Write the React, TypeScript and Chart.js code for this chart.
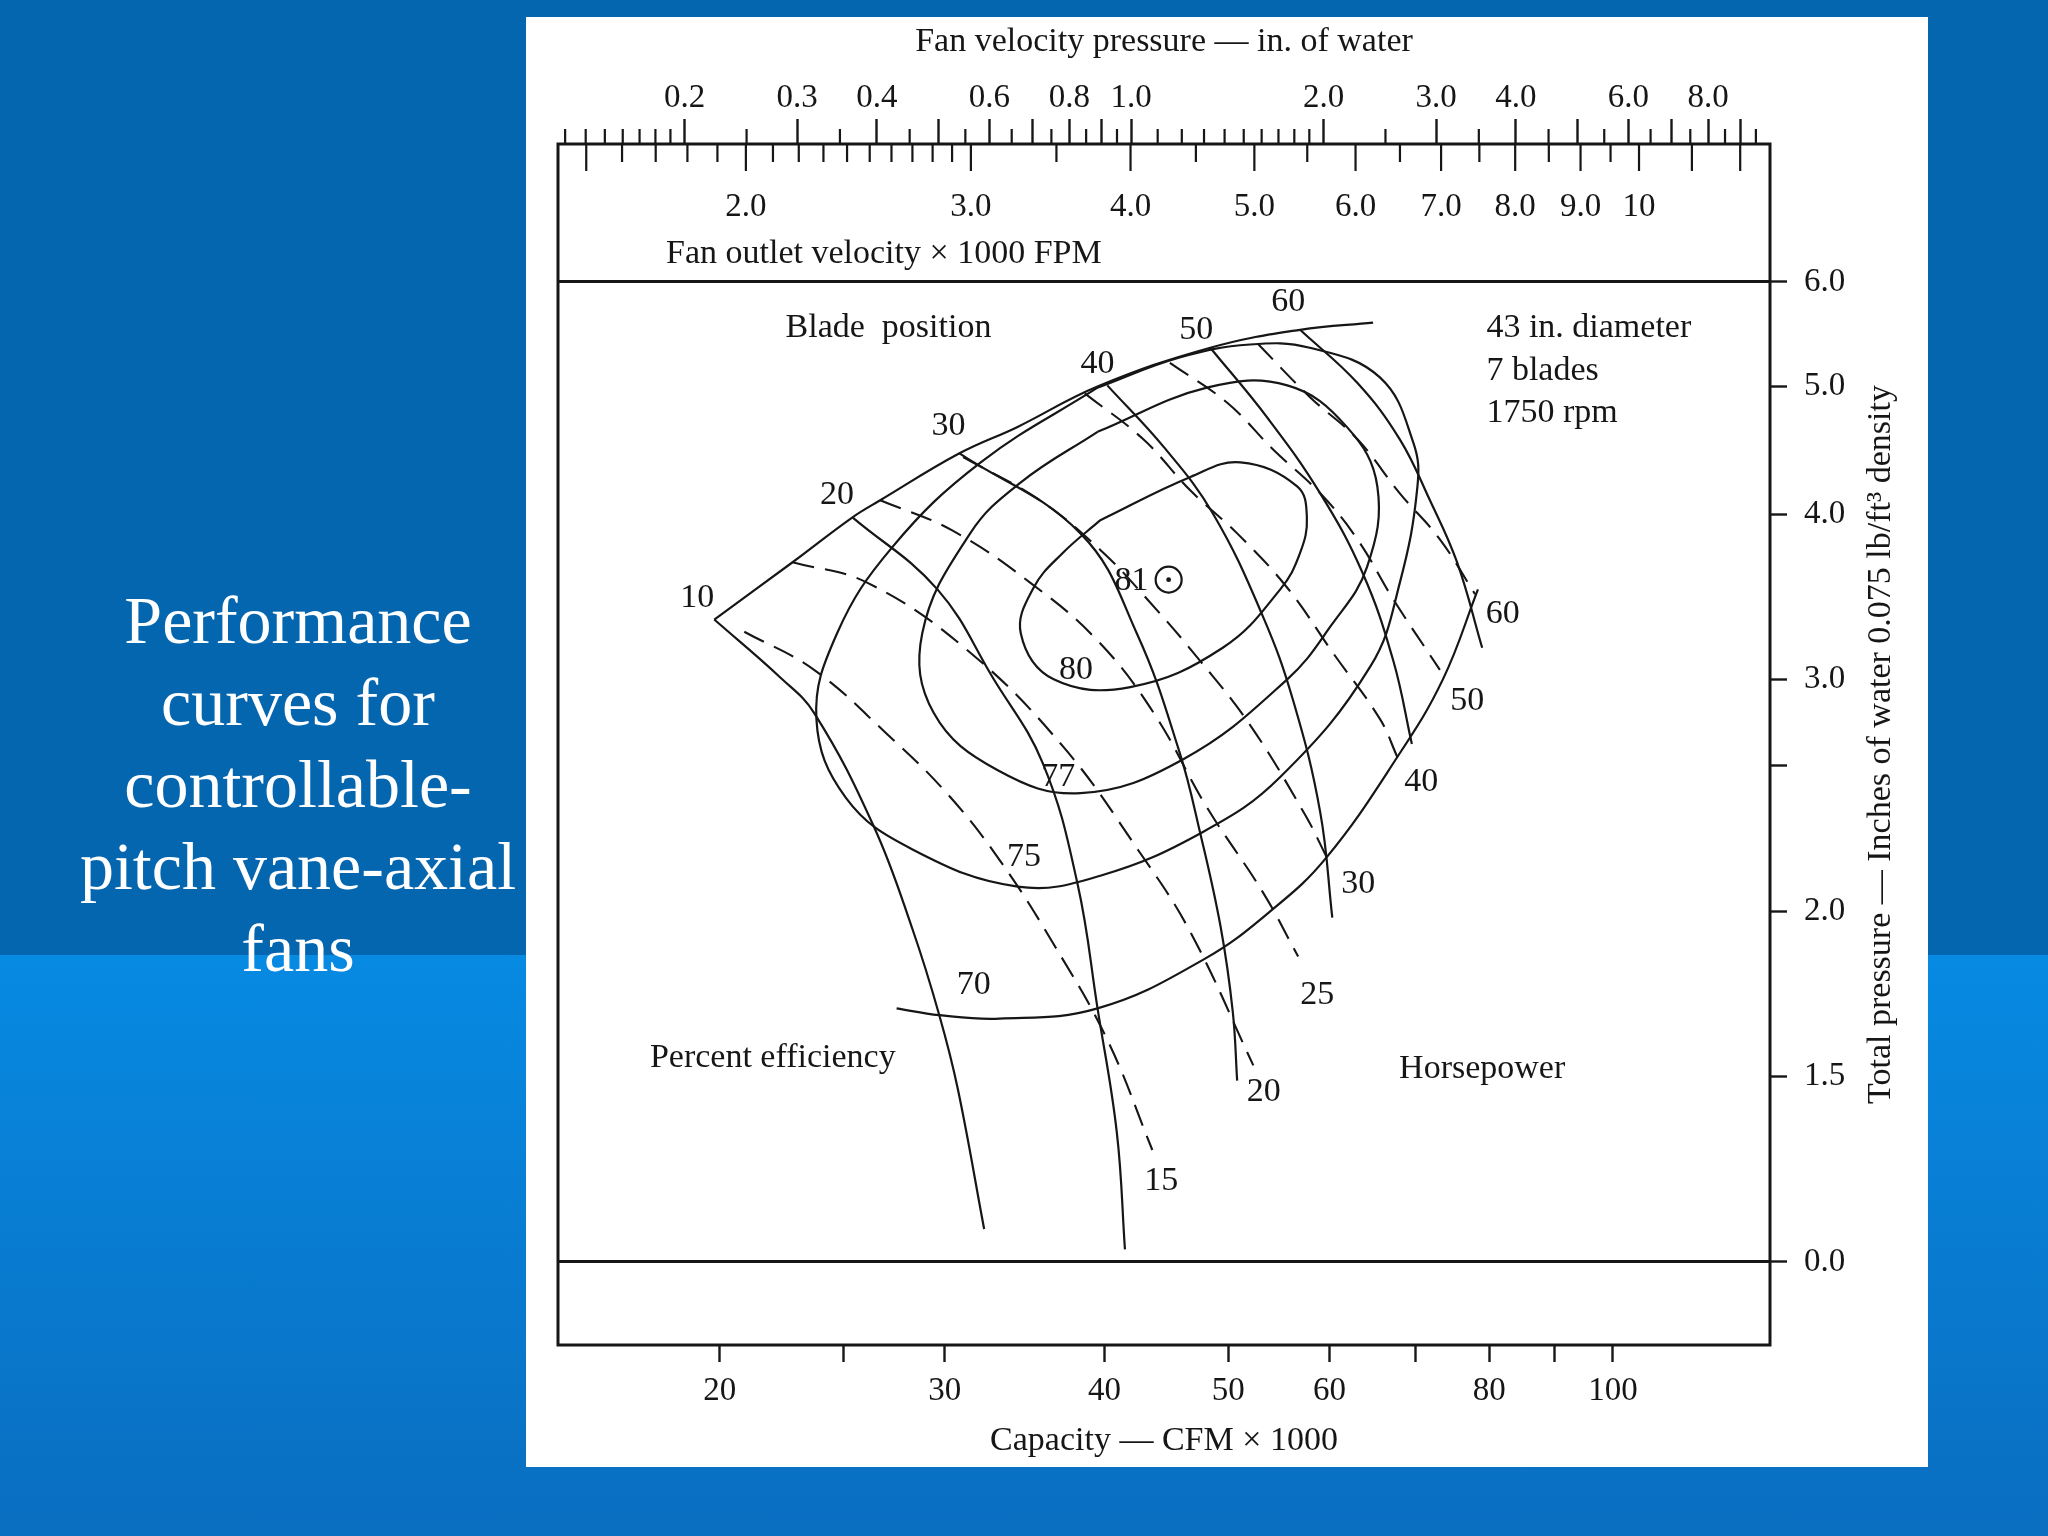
import React, { useEffect, useRef } from 'react';
import { Chart, registerables } from 'chart.js';

Chart.register(...registerables);

const SERIF = '"Liberation Serif", "DejaVu Serif", serif';
const INK = '#161616';

// ---------- axes ----------
const CFM_MIN = 14.94;
const CFM_MAX = 132.7;
const PRESSURE_MIN = 0.9394;
const PRESSURE_MAX = 7.633;
const CFM_TICKS = [20, 25, 30, 40, 50, 60, 70, 80, 90, 100];
const CFM_TICK_LABELS = ['20', '', '30', '40', '50', '60', '', '80', '', '100'];
const PRESSURE_TICKS = [1.086, 1.5, 2.0, 2.58, 3.0, 4.0, 5.0, 6.0];
const PRESSURE_TICK_LABELS = ['0.0', '1.5', '2.0', '', '3.0', '4.0', '5.0', '6.0'];
const PRESSURE_RULES = [1.086, 6.0];

// fan outlet velocity (x1000 FPM) = CFM(x1000) / area ; velocity pressure = (V / 4.005)^2
const OUTLET_AREA_FT2 = 10.48;
const VP_VELOCITY_KFPM = 4.005;

const VP_MAJOR = [0.2, 0.3, 0.4, 0.5, 0.6, 0.7, 0.8, 0.9, 1, 2, 3, 4, 5, 6, 7, 8, 9];
const VP_MAJOR_LABELS = ['0.2', '0.3', '0.4', '', '0.6', '', '0.8', '', '1.0', '2.0', '3.0', '4.0', '', '6.0', '', '8.0', ''];
const VP_MINOR = [0.13, 0.14, 0.15, 0.16, 0.17, 0.18, 0.19, 0.25, 0.35, 0.45, 0.55, 0.65, 0.75, 0.85, 0.95,
  1.1, 1.2, 1.3, 1.4, 1.5, 1.6, 1.7, 1.8, 1.9, 2.5, 3.5, 4.5, 5.5, 6.5, 7.5, 8.5, 9.5];
const VELOCITY_MAJOR = [1.5, 2, 3, 4, 5, 6, 7, 8, 9, 10, 11, 12];
const VELOCITY_MAJOR_LABELS = ['', '2.0', '3.0', '4.0', '5.0', '6.0', '7.0', '8.0', '9.0', '10', '', ''];
const VELOCITY_MINOR = [1.6, 1.7, 1.8, 1.9, 2.1, 2.2, 2.3, 2.4, 2.5, 2.6, 2.7, 2.8, 2.9, 3.5, 4.5, 5.5, 6.5, 7.5, 8.5, 9.5];

// ---------- curves (capacity CFM x1000, total pressure in. water) ----------
const ENVELOPE_CFM = [19.8, 22.8, 25.4, 26.7, 30.8, 34.2, 39.5, 48.4, 56.9, 64.9];
const ENVELOPE_P = [3.33, 3.68, 3.98, 4.10, 4.45, 4.66, 5.00, 5.35, 5.52, 5.59];

const BLADE_10_CFM = [19.8, 22.3, 23.7, 26.4, 28.3, 29.7, 30.7, 32.2];
const BLADE_10_P = [3.33, 3.01, 2.83, 2.32, 1.94, 1.67, 1.47, 1.15];
const BLADE_20_CFM = [25.4, 29.6, 32.7, 35.8, 38.1, 39.5, 40.9, 41.5];
const BLADE_20_P = [3.98, 3.51, 3.01, 2.59, 2.10, 1.69, 1.36, 1.11];
const BLADE_30_CFM = [30.8, 38.3, 42.4, 45.8, 47.5, 49.3, 50.4, 50.8];
const BLADE_30_P = [4.45, 3.87, 3.25, 2.64, 2.30, 1.95, 1.68, 1.49];
const BLADE_40_CFM = [40.2, 44.5, 48.6, 53.2, 56.2, 59.0, 60.3];
const BLADE_40_P = [5.01, 4.50, 4.01, 3.35, 2.89, 2.38, 1.98];
const BLADE_50_CFM = [48.4, 53.6, 59.0, 63.7, 67.3, 69.6];
const BLADE_50_P = [5.35, 4.74, 4.15, 3.61, 3.10, 2.68];
const BLADE_60_CFM = [56.9, 63.1, 68.1, 71.9, 75.5, 79.0];
const BLADE_60_P = [5.52, 5.03, 4.56, 4.10, 3.68, 3.17];

const HP_15_CFM = [20.9, 23.7, 27.0, 30.1, 33.1, 36.5, 40.2, 43.6];
const HP_15_P = [3.26, 3.05, 2.73, 2.46, 2.19, 1.89, 1.60, 1.32];
const HP_20_CFM = [22.8, 26.1, 31.2, 37.1, 42.6, 46.7, 52.3];
const HP_20_P = [3.68, 3.55, 3.16, 2.67, 2.22, 1.93, 1.53];
const HP_25_CFM = [26.7, 30.4, 35.0, 39.5, 43.7, 48.1, 53.2, 56.7];
const HP_25_P = [4.10, 3.89, 3.55, 3.21, 2.83, 2.40, 2.07, 1.85];
const HP_30_CFM = [31.0, 35.6, 39.7, 43.2, 47.5, 52.0, 57.4, 59.7];
const HP_30_P = [4.42, 4.10, 3.76, 3.45, 3.10, 2.77, 2.37, 2.20];
const HP_40_CFM = [38.6, 42.9, 46.7, 50.8, 55.6, 60.4, 65.7, 67.8];
const HP_40_P = [4.94, 4.56, 4.17, 3.87, 3.52, 3.14, 2.80, 2.62];
const HP_50_CFM = [45.0, 49.9, 54.2, 59.0, 63.1, 67.3, 73.2];
const HP_50_P = [5.21, 4.86, 4.48, 4.15, 3.83, 3.45, 3.05];
const HP_60_CFM = [52.7, 57.9, 63.1, 68.1, 73.2, 78.0];
const HP_60_P = [5.39, 4.91, 4.56, 4.15, 3.83, 3.48];

const EFF_70_CFM = [27.5, 29.7, 33.1, 39.5, 47.8, 54.2, 59.7, 67.8, 73.6, 78.4];
const EFF_70_P = [1.69, 1.67, 1.66, 1.69, 1.84, 2.01, 2.20, 2.62, 3.00, 3.51];
const EFF_75_CFM = [39.5, 45.8, 52.0, 57.9, 65.7, 69.8, 70.3, 68.1, 64.6, 54.9, 47.8, 39.7, 34.2, 28.3, 25.1, 23.8, 24.7, 27.3, 32.0, 39.5];
const EFF_75_P = [4.99, 5.26, 5.38, 5.35, 5.08, 4.53, 4.20, 3.55, 3.07, 2.53, 2.30, 2.13, 2.09, 2.23, 2.44, 2.80, 3.25, 3.78, 4.38, 4.99];
const EFF_77_CFM = [39.5, 48.1, 55.6, 61.9, 65.4, 64.2, 60.1, 55.6, 46.1, 38.3, 33.0, 29.4, 28.8, 31.4, 34.4, 39.5];
const EFF_77_P = [4.62, 4.99, 5.01, 4.66, 4.20, 3.65, 3.29, 3.00, 2.61, 2.46, 2.56, 2.83, 3.25, 3.87, 4.23, 4.62];
const EFF_80_CFM = [39.7, 46.7, 51.1, 56.6, 57.6, 56.9, 54.9, 49.5, 41.9, 36.5, 34.4, 35.2, 37.1, 39.7];
const EFF_80_P = [3.96, 4.27, 4.38, 4.20, 3.98, 3.74, 3.51, 3.17, 2.96, 3.00, 3.25, 3.52, 3.74, 3.96];
const PEAK_81_CFM = [44.9];
const PEAK_81_P = [3.57];

// ---------- annotations (text, CFM, pressure) ----------
const CURVE_LABEL_TEXT = ['Blade  position', '10', '20', '30', '40', '50', '60', '60', '50', '40', '30', '25', '20', '15',
  '70', '75', '77', '80', '81', 'Percent efficiency', 'Horsepower'];
const CURVE_LABEL_CFM = [27.1, 19.2, 24.7, 30.2, 39.5, 47.2, 55.7, 82.0, 76.9, 70.8, 63.2, 58.7, 53.3, 44.3,
  31.6, 34.6, 36.8, 38.0, 42.0, 22.0, 79.0];
const CURVE_LABEL_P = [5.54, 3.46, 4.14, 4.67, 5.20, 5.52, 5.79, 3.36, 2.89, 2.51, 2.10, 1.73, 1.46, 1.25,
  1.76, 2.20, 2.53, 3.05, 3.56, 1.55, 1.52];
const SPEC_TEXT = ['43 in. diameter', '7 blades', '1750 rpm'];
const SPEC_CFM = 79.6;
const SPEC_P = [5.54, 5.14, 4.77];

const SLIDE_TITLE = ['Performance', 'curves for', 'controllable-', 'pitch vane-axial', 'fans'];

const pts = (xs: number[], ys: number[]) => xs.map((x, i) => ({ x, y: ys[i] }));
const solid = (xs: number[], ys: number[]) => ({
  data: pts(xs, ys), showLine: true, borderColor: INK, borderWidth: 2.2, tension: 0.4,
  pointRadius: 0, fill: false,
});
const dashed = (xs: number[], ys: number[]) => ({ ...solid(xs, ys), borderDash: [22, 11], borderWidth: 2.1 });

const vpOf = (cfm: number) => Math.pow(cfm / OUTLET_AREA_FT2 / VP_VELOCITY_KFPM, 2);

const overlayPlugin = {
  id: 'overlay',
  afterDraw(chart: any) {
    const { ctx, chartArea: a, scales } = chart;
    const x = scales.x;
    const y = scales.y;
    const vp = scales.xVP;
    ctx.save();
    ctx.strokeStyle = INK;
    ctx.lineWidth = 3;
    ctx.strokeRect(a.left, a.top, a.right - a.left, a.bottom - a.top);

    ctx.lineWidth = 2.2;
    ctx.beginPath();
    VP_MINOR.forEach((v) => {
      const px = vp.getPixelForValue(v);
      ctx.moveTo(px, a.top);
      ctx.lineTo(px, a.top - 15);
    });
    VELOCITY_MAJOR.forEach((v) => {
      const px = x.getPixelForValue(v * OUTLET_AREA_FT2);
      ctx.moveTo(px, a.top);
      ctx.lineTo(px, a.top + 27);
    });
    VELOCITY_MINOR.forEach((v) => {
      const px = x.getPixelForValue(v * OUTLET_AREA_FT2);
      ctx.moveTo(px, a.top);
      ctx.lineTo(px, a.top + 18);
    });
    ctx.stroke();

    ctx.fillStyle = INK;
    ctx.textBaseline = 'middle';
    ctx.textAlign = 'center';
    ctx.font = `33px ${SERIF}`;
    VELOCITY_MAJOR.forEach((v, i) => {
      if (VELOCITY_MAJOR_LABELS[i]) ctx.fillText(VELOCITY_MAJOR_LABELS[i], x.getPixelForValue(v * OUTLET_AREA_FT2), a.top + 63);
    });
    ctx.font = `34px ${SERIF}`;
    ctx.textAlign = 'left';
    ctx.fillText('Fan outlet velocity × 1000 FPM', a.left + 108, a.top + 110);

    ctx.save();
    ctx.translate(a.right + 111, (a.top + a.bottom) / 2);
    ctx.rotate(-Math.PI / 2);
    ctx.textAlign = 'center';
    ctx.fillText('Total pressure — Inches of water 0.075 lb/ft³ density', 0, 0);
    ctx.restore();

    ctx.textAlign = 'center';
    CURVE_LABEL_TEXT.forEach((t, i) => {
      ctx.fillText(t, x.getPixelForValue(CURVE_LABEL_CFM[i]), y.getPixelForValue(CURVE_LABEL_P[i]));
    });
    ctx.textAlign = 'left';
    SPEC_TEXT.forEach((t, i) => {
      ctx.fillText(t, x.getPixelForValue(SPEC_CFM), y.getPixelForValue(SPEC_P[i]));
    });
    ctx.restore();
  },
};

export default function App() {
  const ref = useRef<HTMLCanvasElement>(null);

  useEffect(() => {
    if (!ref.current) return;
    const tickFont = { family: SERIF, size: 33 };
    const titleFont = { family: SERIF, size: 34 };
    const chart = new Chart(ref.current, {
      type: 'scatter',
      data: {
        datasets: [
          solid(ENVELOPE_CFM, ENVELOPE_P),
          solid(BLADE_10_CFM, BLADE_10_P),
          solid(BLADE_20_CFM, BLADE_20_P),
          solid(BLADE_30_CFM, BLADE_30_P),
          solid(BLADE_40_CFM, BLADE_40_P),
          solid(BLADE_50_CFM, BLADE_50_P),
          solid(BLADE_60_CFM, BLADE_60_P),
          dashed(HP_15_CFM, HP_15_P),
          dashed(HP_20_CFM, HP_20_P),
          dashed(HP_25_CFM, HP_25_P),
          dashed(HP_30_CFM, HP_30_P),
          dashed(HP_40_CFM, HP_40_P),
          dashed(HP_50_CFM, HP_50_P),
          dashed(HP_60_CFM, HP_60_P),
          solid(EFF_70_CFM, EFF_70_P),
          solid(EFF_75_CFM, EFF_75_P),
          solid(EFF_77_CFM, EFF_77_P),
          solid(EFF_80_CFM, EFF_80_P),
          {
            data: pts(PEAK_81_CFM, PEAK_81_P), showLine: false, pointRadius: 13, pointBorderWidth: 2.2,
            pointBorderColor: INK, pointBackgroundColor: 'rgba(0,0,0,0)',
          },
          {
            data: pts(PEAK_81_CFM, PEAK_81_P), showLine: false, pointRadius: 2.4, pointBorderWidth: 0,
            pointBackgroundColor: INK,
          },
        ] as any,
      },
      options: {
        animation: false,
        responsive: false,
        events: [],
        layout: { padding: { left: 32, right: 0, top: 0, bottom: 0 } },
        plugins: { legend: { display: false }, tooltip: { enabled: false }, title: { display: false } },
        scales: {
          x: {
            type: 'logarithmic', position: 'bottom', min: CFM_MIN, max: CFM_MAX,
            afterBuildTicks: (s: any) => { s.ticks = CFM_TICKS.map((value) => ({ value })); },
            afterFit: (s: any) => { s.height = 122; },
            ticks: {
              autoSkip: false, maxRotation: 0, minRotation: 0, padding: 10, color: INK, font: tickFont,
              callback: (_v: any, i: number) => CFM_TICK_LABELS[i],
            },
            grid: { drawOnChartArea: false, tickLength: 17, tickWidth: 2.4, tickColor: INK },
            border: { display: false },
            title: { display: true, text: 'Capacity — CFM × 1000', color: INK, font: titleFont, padding: { top: 0, bottom: 6 } },
          },
          y: {
            type: 'logarithmic', position: 'right', min: PRESSURE_MIN, max: PRESSURE_MAX,
            afterBuildTicks: (s: any) => { s.ticks = PRESSURE_TICKS.map((value) => ({ value })); },
            afterFit: (s: any) => { s.width = 158; },
            ticks: {
              autoSkip: false, padding: 17, color: INK, font: tickFont,
              callback: (_v: any, i: number) => PRESSURE_TICK_LABELS[i],
            },
            grid: {
              drawOnChartArea: true, tickLength: 17, tickWidth: 2.4, tickColor: INK, lineWidth: 3,
              color: (c: any) => (c.tick && PRESSURE_RULES.includes(c.tick.value) ? INK : 'rgba(0,0,0,0)'),
            },
            border: { display: false },
          },
          xVP: {
            type: 'logarithmic', position: 'top', min: vpOf(CFM_MIN), max: vpOf(CFM_MAX),
            afterBuildTicks: (s: any) => { s.ticks = VP_MAJOR.map((value) => ({ value })); },
            afterFit: (s: any) => { s.height = 127; },
            ticks: {
              autoSkip: false, maxRotation: 0, minRotation: 0, padding: 1, color: INK, font: tickFont,
              callback: (_v: any, i: number) => VP_MAJOR_LABELS[i],
            },
            grid: { drawOnChartArea: false, tickLength: 25, tickWidth: 2.4, tickColor: INK },
            border: { display: false },
            title: { display: true, text: 'Fan velocity pressure — in. of water', color: INK, font: titleFont, padding: { top: 5, bottom: 0 } },
          },
        } as any,
      },
      plugins: [overlayPlugin],
    });
    return () => chart.destroy();
  }, []);

  return (
    <div style={{ position: 'fixed', left: 0, top: 0, width: 2048, height: 1536, overflow: 'hidden', background: '#0566b0' }}>
      <div style={{ position: 'absolute', left: 0, top: 955, width: 2048, height: 581, background: 'linear-gradient(#078ae2, #0a6ec0)' }} />
      <div style={{ position: 'absolute', left: 0, top: 579, width: 596, textAlign: 'center', color: '#ffffff', fontFamily: SERIF, fontSize: 68, lineHeight: '82px' }}>
        {SLIDE_TITLE.map((t) => (
          <div key={t} style={{ whiteSpace: 'nowrap' }}>{t}</div>
        ))}
      </div>
      <div style={{ position: 'absolute', left: 526, top: 17, width: 1402, height: 1450, background: '#ffffff' }}>
        <canvas ref={ref} width={1402} height={1450} style={{ display: 'block', width: 1402, height: 1450 }} />
      </div>
    </div>
  );
}
